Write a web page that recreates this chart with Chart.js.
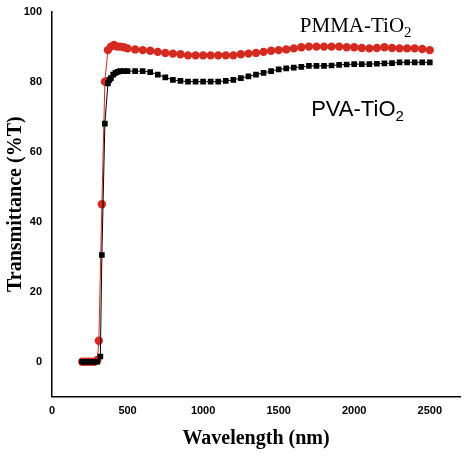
<!DOCTYPE html><html><head><script src="https://cdn.jsdelivr.net/npm/chart.js@4"></script>
<style>body{margin:0;background:#fff}#w{width:474px;height:459px}</style></head><body><div id="w"><canvas id="c"></canvas></div>
<script>
const pmmaX=[200,220,240,260,280,300,310,330,350,370,390,410,430,450,475,500,550,600,650,700,750,800,850,900,950,1000,1050,1100,1150,1200,1250,1300,1350,1400,1450,1500,1550,1600,1650,1700,1750,1800,1850,1900,1950,2000,2050,2100,2150,2200,2250,2300,2350,2400,2450,2500];
const pmmaY=[0,0,0,0,0,0.5,6,45,80,89,90,90.5,90,90,89.8,89.5,89.2,89,88.8,88.5,88.2,88,87.8,87.5,87.5,87.5,87.5,87.5,87.5,87.5,87.8,88,88.2,88.5,88.8,89,89.2,89.5,89.8,90,90,90,90,90,89.8,89.8,89.6,89.5,89.6,89.8,89.6,89.5,89.5,89.5,89.3,89];
const pvaX=[200,220,240,260,280,300,320,330,350,370,380,390,405,420,435,450,475,500,550,600,650,700,750,800,850,900,950,1000,1050,1100,1150,1200,1250,1300,1350,1400,1450,1500,1550,1600,1650,1700,1750,1800,1850,1900,1950,2000,2050,2100,2150,2200,2250,2300,2350,2400,2450,2500];
const pvaY=[0,0,0,0,0,0,1.5,30.5,68,79.5,80.5,81,82,82.5,82.8,83,83,83,83,83,82.7,82,81.2,80.5,80.2,80,80,80,80,80,80.2,80.5,81,81.5,82,82.5,83,83.5,83.8,84,84.2,84.5,84.5,84.5,84.6,84.8,84.9,85,85,85,85.1,85.2,85.3,85.5,85.5,85.5,85.5,85.5];
const xTicks=[0,500,1000,1500,2000,2500];
const yTicks=[0,20,40,60,80,100];
function sub(c,txt,font,sfont,x,y){c.font=font;c.fillText(txt,x,y);const w=c.measureText(txt).width;c.font=sfont;c.fillText('2',x+w,y+5);}
const labelsPlugin={id:'lbl',afterDatasetsDraw(ch){const c=ch.ctx,x=ch.scales.x,y=ch.scales.y;c.save();c.fillStyle='#000';
sub(c,'PMMA-TiO','21px "Liberation Serif"','15px "Liberation Serif"',x.getPixelForValue(1640),y.getPixelForValue(94.3));
sub(c,'PVA-TiO','22px "Liberation Sans"','15px "Liberation Sans"',x.getPixelForValue(1715),y.getPixelForValue(70.3));
c.restore();}};
const tf={family:'Liberation Sans',size:11,weight:'bold'};
new Chart(document.getElementById('c'),{type:'scatter',data:{datasets:[
{data:pvaX.map((v,i)=>({x:v,y:pvaY[i]})),showLine:true,borderColor:'#000',borderWidth:1,backgroundColor:'#000',pointStyle:'rect',pointRadius:4,pointBorderWidth:0},
{data:pmmaX.map((v,i)=>({x:v,y:pmmaY[i]})),showLine:true,borderColor:'#d42a20',borderWidth:1,backgroundColor:'#d42a20',pointStyle:'circle',pointRadius:4.2,pointBorderWidth:0}]},
options:{animation:false,responsive:true,maintainAspectRatio:false,layout:{padding:{top:7,right:14,left:0,bottom:4}},
plugins:{legend:{display:false},tooltip:{enabled:false}},
scales:{x:{min:0,max:2700,afterBuildTicks:s=>{s.ticks=xTicks.map(v=>({value:v}))},grid:{display:false,tickLength:5,tickColor:'#000'},border:{color:'#000',width:1.5},
ticks:{color:'#000',font:tf,maxRotation:0,callback:v=>String(v)},title:{display:true,text:'Wavelength (nm)',color:'#000',font:{family:'Liberation Serif',size:20,weight:'bold'},padding:{top:6}}},
y:{min:-10,max:100,afterBuildTicks:s=>{s.ticks=yTicks.map(v=>({value:v}))},grid:{display:false,tickLength:5,tickColor:'#000'},border:{color:'#000',width:1.5},afterFit:s=>{s.width=52},
ticks:{color:'#000',font:tf,padding:5},title:{display:true,text:'Transmittance (%T)',color:'#000',font:{family:'Liberation Serif',size:20,weight:'bold'},padding:{bottom:0}}}}},plugins:[labelsPlugin]});
</script></body></html>
